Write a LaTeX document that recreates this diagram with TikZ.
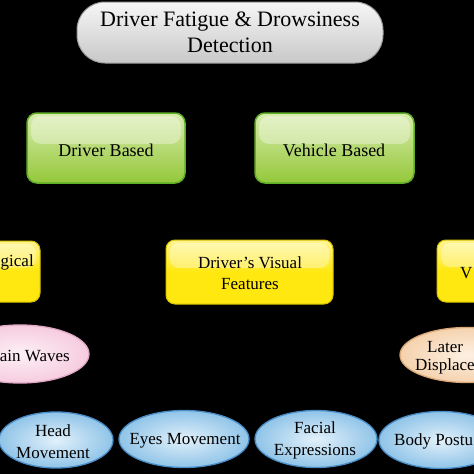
\documentclass[tikz,border=0pt]{standalone}
\usepackage{fontspec}
\setmainfont{Liberation Serif}
\usetikzlibrary{shapes.geometric}
\definecolor{grayT}{HTML}{F6F6F6}
\definecolor{grayB}{HTML}{C8C8C8}
\definecolor{grayD}{HTML}{9A9A9A}
\definecolor{greenT}{HTML}{D8ECAC}
\definecolor{greenB}{HTML}{94C83A}
\definecolor{greenD}{HTML}{5EAE28}
\definecolor{yelT}{HTML}{FFF590}
\definecolor{yelB}{HTML}{FFE810}
\definecolor{yelD}{HTML}{D8C000}
\definecolor{pinkI}{HTML}{FDF0F6}
\definecolor{pinkO}{HTML}{F6CCDF}
\definecolor{pinkD}{HTML}{E0A8C4}
\definecolor{peachI}{HTML}{FDF0E2}
\definecolor{peachO}{HTML}{F5D2AE}
\definecolor{peachD}{HTML}{D8A878}
\definecolor{blueI}{HTML}{E2F1FB}
\definecolor{blueO}{HTML}{90C4E8}
\definecolor{blueD}{HTML}{4A8CC6}
\tikzset{
  gloss/.style={path picture={\fill[white,opacity=0.35]
     ([xshift=4pt,yshift=-3pt]path picture bounding box.north west) rectangle
     ([xshift=-4pt,yshift=4pt]path picture bounding box.east);}},
  graybox/.style={rounded corners=28pt, draw=grayD, line width=1pt,
     top color=grayT, bottom color=grayB, inner sep=0pt, align=center,
     font=\fontsize{22}{26}\selectfont},
  greenbox/.style={rounded corners=10pt, draw=greenD, line width=1.5pt,
     top color=greenT, bottom color=greenB, gloss, inner sep=0pt},
  yelbox/.style={rounded corners=9pt, draw=yelD, line width=1pt,
     top color=yelT, bottom color=yelB, middle color=yelB, gloss, inner sep=0pt},
  ovalbase/.style={ellipse, inner sep=0pt, line width=1.3pt},
  pinkoval/.style={ovalbase, draw=pinkD, inner color=pinkI, outer color=pinkO},
  peachoval/.style={ovalbase, draw=peachD, inner color=peachI, outer color=peachO},
  blueoval/.style={ovalbase, draw=blueD, inner color=blueI, outer color=blueO},
  lbl/.style={inner sep=0pt, align=center, font=\fontsize{17}{21}\selectfont},
  lblb/.style={inner sep=0pt, align=center, font=\fontsize{17}{22}\selectfont},
  lblg/.style={inner sep=0pt, font=\fontsize{18}{21}\selectfont}
}
\begin{document}
\begin{tikzpicture}[x=1pt,y=-1pt]
\useasboundingbox (0,0) rectangle (474,474);
\fill[black] (0,0) rectangle (474,474);
\begin{scope}
\clip (0,0) rectangle (474,474);
% top
\node[graybox, minimum width=306pt, minimum height=61pt] (top) at (230,32.5)
  {Driver Fatigue \& Drowsiness\\Detection};
% level 2
\node[greenbox, minimum width=158pt, minimum height=70pt] (driver) at (106,148) {};
\node[lblg] (drivert) at (106,150) {Driver Based};
\node[greenbox, minimum width=159pt, minimum height=70pt] (vehicle) at (334.5,148) {};
\node[lblg] (vehiclet) at (334,150) {Vehicle Based};
% level 3
\node[yelbox, minimum width=120pt, minimum height=61pt] (physio) at (-20,271.5) {};
\node[lbl, anchor=west] (physiot) at (0.5,262) {gical};
\node[yelbox, minimum width=167pt, minimum height=64pt] (visual) at (249.5,272) {};
\node[lbl] (visualt) at (250,273) {Driver's Visual\\Features};
\node[yelbox, minimum width=124pt, minimum height=62pt] (vehb) at (499,271) {};
\node[lbl, anchor=west] (vehbt) at (460,273) {V};
% level 4
\node[pinkoval, minimum width=138pt, minimum height=58pt] (brain) at (20,354) {};
\node[lbl, anchor=east] (braint) at (70,356) {ain Waves};
\node[peachoval, minimum width=134pt, minimum height=55pt] (lateral) at (467,355) {};
\node[lbl, anchor=west] (lateralt1) at (427,347) {Later};
\node[lbl, anchor=west] (lateralt2) at (415,366) {Displace};
% bottom
\node[blueoval, minimum width=114pt, minimum height=56pt] (head) at (56,440) {};
\node[lblb] (headt) at (53,442) {Head\\Movement};
\node[blueoval, minimum width=130pt, minimum height=57pt] (eyes) at (184,439) {};
\node[lblb] (eyest) at (185,441) {Eyes Movement};
\node[blueoval, minimum width=122pt, minimum height=57pt] (facial) at (316,439) {};
\node[lblb] (facialt) at (315,440) {Facial\\Expressions};
\node[blueoval, minimum width=124pt, minimum height=57pt] (body) at (441,440) {};
\node[lblb, anchor=west] (bodyt) at (394,441) {Body Postu};
\end{scope}
\end{tikzpicture}
\end{document}
